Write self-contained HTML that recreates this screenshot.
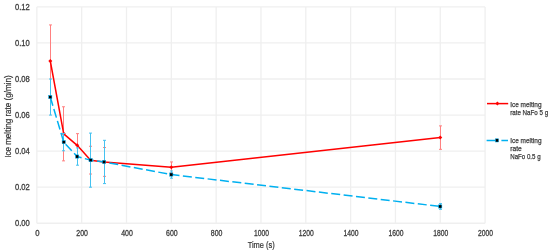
<!DOCTYPE html><html><head><meta charset="utf-8"><style>html,body{margin:0;padding:0;background:#fff;overflow:hidden;}svg{display:block;filter:blur(0.25px);}text{font-family:"Liberation Sans", Arial, sans-serif;fill:#404040;}</style></head><body>
<svg width="550" height="252" viewBox="0 0 550 252">
<rect width="550" height="252" fill="#fff"/>
<path d="M36.84 223.25H485.10M36.84 187.19H485.10M36.84 151.13H485.10M36.84 115.08H485.10M36.84 79.02H485.10M36.84 42.96H485.10M36.84 6.90H485.10M36.84 6.90V223.25M81.67 6.90V223.25M126.49 6.90V223.25M171.32 6.90V223.25M216.14 6.90V223.25M260.97 6.90V223.25M305.80 6.90V223.25M350.62 6.90V223.25M395.45 6.90V223.25M440.27 6.90V223.25M485.10 6.90V223.25" stroke="#EFEFEF" stroke-width="1.3" fill="none"/>
<text x="29.80" y="226.25" font-size="8.3" text-anchor="end" textLength="14.80" lengthAdjust="spacingAndGlyphs" fill="#3c3c3c" stroke="#3c3c3c" stroke-width="0.3" >0.00</text>
<text x="29.80" y="190.19" font-size="8.3" text-anchor="end" textLength="14.80" lengthAdjust="spacingAndGlyphs" fill="#3c3c3c" stroke="#3c3c3c" stroke-width="0.3" >0.02</text>
<text x="29.80" y="154.13" font-size="8.3" text-anchor="end" textLength="14.80" lengthAdjust="spacingAndGlyphs" fill="#3c3c3c" stroke="#3c3c3c" stroke-width="0.3" >0.04</text>
<text x="29.80" y="118.08" font-size="8.3" text-anchor="end" textLength="14.80" lengthAdjust="spacingAndGlyphs" fill="#3c3c3c" stroke="#3c3c3c" stroke-width="0.3" >0.06</text>
<text x="29.80" y="82.02" font-size="8.3" text-anchor="end" textLength="14.80" lengthAdjust="spacingAndGlyphs" fill="#3c3c3c" stroke="#3c3c3c" stroke-width="0.3" >0.08</text>
<text x="29.80" y="45.96" font-size="8.3" text-anchor="end" textLength="14.80" lengthAdjust="spacingAndGlyphs" fill="#3c3c3c" stroke="#3c3c3c" stroke-width="0.3" >0.10</text>
<text x="29.80" y="9.90" font-size="8.3" text-anchor="end" textLength="14.80" lengthAdjust="spacingAndGlyphs" fill="#3c3c3c" stroke="#3c3c3c" stroke-width="0.3" >0.12</text>
<text x="37.34" y="236.20" font-size="8.3" text-anchor="middle" textLength="4.30" lengthAdjust="spacingAndGlyphs" fill="#3c3c3c" stroke="#3c3c3c" stroke-width="0.3" >0</text>
<text x="82.17" y="236.20" font-size="8.3" text-anchor="middle" textLength="11.60" lengthAdjust="spacingAndGlyphs" fill="#3c3c3c" stroke="#3c3c3c" stroke-width="0.3" >200</text>
<text x="126.99" y="236.20" font-size="8.3" text-anchor="middle" textLength="11.60" lengthAdjust="spacingAndGlyphs" fill="#3c3c3c" stroke="#3c3c3c" stroke-width="0.3" >400</text>
<text x="171.82" y="236.20" font-size="8.3" text-anchor="middle" textLength="11.60" lengthAdjust="spacingAndGlyphs" fill="#3c3c3c" stroke="#3c3c3c" stroke-width="0.3" >600</text>
<text x="216.64" y="236.20" font-size="8.3" text-anchor="middle" textLength="11.60" lengthAdjust="spacingAndGlyphs" fill="#3c3c3c" stroke="#3c3c3c" stroke-width="0.3" >800</text>
<text x="261.47" y="236.20" font-size="8.3" text-anchor="middle" textLength="15.00" lengthAdjust="spacingAndGlyphs" fill="#3c3c3c" stroke="#3c3c3c" stroke-width="0.3" >1000</text>
<text x="306.30" y="236.20" font-size="8.3" text-anchor="middle" textLength="15.00" lengthAdjust="spacingAndGlyphs" fill="#3c3c3c" stroke="#3c3c3c" stroke-width="0.3" >1200</text>
<text x="351.12" y="236.20" font-size="8.3" text-anchor="middle" textLength="15.00" lengthAdjust="spacingAndGlyphs" fill="#3c3c3c" stroke="#3c3c3c" stroke-width="0.3" >1400</text>
<text x="395.95" y="236.20" font-size="8.3" text-anchor="middle" textLength="15.00" lengthAdjust="spacingAndGlyphs" fill="#3c3c3c" stroke="#3c3c3c" stroke-width="0.3" >1600</text>
<text x="440.77" y="236.20" font-size="8.3" text-anchor="middle" textLength="15.00" lengthAdjust="spacingAndGlyphs" fill="#3c3c3c" stroke="#3c3c3c" stroke-width="0.3" >1800</text>
<text x="485.60" y="236.20" font-size="8.3" text-anchor="middle" textLength="15.00" lengthAdjust="spacingAndGlyphs" fill="#3c3c3c" stroke="#3c3c3c" stroke-width="0.3" >2000</text>
<text x="261.20" y="247.50" font-size="8.3" text-anchor="middle" textLength="27.00" lengthAdjust="spacingAndGlyphs" fill="#262626" stroke="#262626" stroke-width="0.2" >Time (s)</text>
<g transform="translate(10.60 116.60) rotate(-90)"><text x="0.00" y="0.00" font-size="8.3" text-anchor="middle" textLength="82.50" lengthAdjust="spacingAndGlyphs" fill="#262626" stroke="#262626" stroke-width="0.2" >Ice melting rate (g/min)</text></g>
<path d="M50.50 24.93V97.05M49.00 24.93H52.00M49.00 97.05H52.00M63.50 106.78V160.87M62.00 106.78H65.00M62.00 160.87H65.00M77.50 133.65V157.08M76.00 133.65H79.00M76.00 157.08H79.00M90.50 146.27V174.03M89.00 146.27H92.00M89.00 174.03H92.00M104.50 147.53V176.37M103.00 147.53H106.00M103.00 176.37H106.00M171.50 161.95V172.77M170.00 161.95H173.00M170.00 172.77H173.00M440.50 125.89V149.33M439.00 125.89H442.00M439.00 149.33H442.00" stroke="#FF8080" stroke-width="1" fill="none"/>
<polyline points="50.29,60.99 63.74,133.83 77.18,145.36 90.63,160.15 104.08,161.95 171.32,167.36 440.27,137.61" stroke="#FF0000" stroke-width="1.5" fill="none" stroke-linejoin="round"/>
<path d="M50.29 58.99l2 2l-2 2l-2 -2z" fill="#FF0000"/>
<path d="M63.74 131.83l2 2l-2 2l-2 -2z" fill="#FF0000"/>
<path d="M77.18 143.36l2 2l-2 2l-2 -2z" fill="#FF0000"/>
<path d="M90.63 158.15l2 2l-2 2l-2 -2z" fill="#FF0000"/>
<path d="M104.08 159.95l2 2l-2 2l-2 -2z" fill="#FF0000"/>
<path d="M171.32 165.36l2 2l-2 2l-2 -2z" fill="#FF0000"/>
<path d="M440.27 135.61l2 2l-2 2l-2 -2z" fill="#FF0000"/>
<path d="M50.50 79.02V115.08M49.00 79.02H52.00M49.00 115.08H52.00M63.50 133.46V150.77M62.00 133.46H65.00M62.00 150.77H65.00M77.50 147.89V165.20M76.00 147.89H79.00M76.00 165.20H79.00M90.50 133.10V187.19M89.00 133.10H92.00M89.00 187.19H92.00M104.50 140.32V183.59M103.00 140.32H106.00M103.00 183.59H106.00M171.50 170.97V178.18M170.00 170.97H173.00M170.00 178.18H173.00M440.50 203.60V209.37M439.00 203.60H442.00M439.00 209.37H442.00" stroke="#45C2F0" stroke-width="1" fill="none"/>
<polyline points="50.29,97.05 63.74,142.12 77.18,156.54 90.63,160.15 104.08,161.95 171.32,174.57 440.27,206.48" stroke="#00B0F0" stroke-width="1.5" fill="none" stroke-dasharray="9 3.45" stroke-dashoffset="0" stroke-linejoin="round"/>
<rect x="48.69" y="95.45" width="3.2" height="3.2" fill="#000000" stroke="#00B0F0" stroke-width="0.5"/>
<rect x="62.14" y="140.52" width="3.2" height="3.2" fill="#000000" stroke="#00B0F0" stroke-width="0.5"/>
<rect x="75.58" y="154.94" width="3.2" height="3.2" fill="#000000" stroke="#00B0F0" stroke-width="0.5"/>
<rect x="89.03" y="158.55" width="3.2" height="3.2" fill="#000000" stroke="#00B0F0" stroke-width="0.5"/>
<rect x="102.48" y="160.35" width="3.2" height="3.2" fill="#000000" stroke="#00B0F0" stroke-width="0.5"/>
<rect x="169.72" y="172.97" width="3.2" height="3.2" fill="#000000" stroke="#00B0F0" stroke-width="0.5"/>
<rect x="438.67" y="204.88" width="3.2" height="3.2" fill="#000000" stroke="#00B0F0" stroke-width="0.5"/>
<path d="M487 103.6H508.2" stroke="#FF0000" stroke-width="1.5"/>
<path d="M497.40 101.60l2 2l-2 2l-2 -2z" fill="#FF0000"/>
<path d="M486.6 140.4H495.4M501.4 140.4H508" stroke="#00B0F0" stroke-width="1.5"/>
<rect x="495.40" y="138.80" width="3.2" height="3.2" fill="#000000" stroke="#00B0F0" stroke-width="0.5"/>
<text x="510.20" y="106.60" font-size="7.6" textLength="31.30" lengthAdjust="spacingAndGlyphs" fill="#333333" stroke="#333333" stroke-width="0.25" >Ice melting</text>
<text x="510.20" y="114.80" font-size="7.6" textLength="38.00" lengthAdjust="spacingAndGlyphs" fill="#333333" stroke="#333333" stroke-width="0.25" >rate NaFo 5 g</text>
<text x="510.20" y="142.50" font-size="7.6" textLength="31.30" lengthAdjust="spacingAndGlyphs" fill="#333333" stroke="#333333" stroke-width="0.25" >Ice melting</text>
<text x="510.20" y="150.90" font-size="7.6" textLength="11.60" lengthAdjust="spacingAndGlyphs" fill="#333333" stroke="#333333" stroke-width="0.25" >rate</text>
<text x="510.20" y="159.20" font-size="7.6" textLength="30.40" lengthAdjust="spacingAndGlyphs" fill="#333333" stroke="#333333" stroke-width="0.25" >NaFo 0.5 g</text>
</svg></body></html>
